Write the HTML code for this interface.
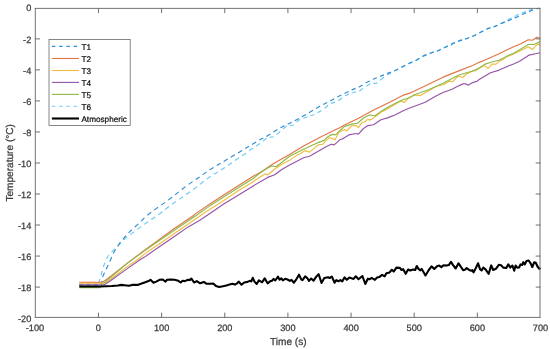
<!DOCTYPE html>
<html><head><meta charset="utf-8"><title>Temperature vs Time</title>
<style>
html,body{margin:0;padding:0;background:#fff;}
body{width:550px;height:349px;overflow:hidden;position:relative;font-family:"Liberation Sans",Arial,Helvetica,sans-serif;}
svg text{font-family:"Liberation Sans",Arial,Helvetica,sans-serif;stroke:#3a3a3a;stroke-width:0.25px;paint-order:stroke;text-rendering:geometricPrecision;}
</style></head><body>
<svg width="550" height="349" viewBox="0 0 550 349" style="position:absolute;left:0;top:0">
<rect width="550" height="349" fill="#fff"/>
<path d="M79.3,284.9 L82.1,284.9 M85.3,284.9 L89.3,284.9 M92.5,284.9 L96.5,284.9 M98.8,283.6 L99.3,280.8 L99.9,278.9 M100.9,275.4 L102.3,270.8 M103.4,267.1 L104.0,265.0 L105.0,262.6 M106.5,259.0 L107.4,257.0 L109.1,255.0 M111.5,252.2 L114.9,248.8 M117.6,246.1 L121.0,242.7 M123.7,240.0 L126.0,237.7 L127.3,236.7 M130.2,234.6 L133.0,232.5 L134.1,231.7 M137.3,229.4 L141.2,226.6 M144.2,224.4 L147.2,222.3 L148.2,221.6 M151.2,219.6 L153.7,217.9 L155.2,216.9 M158.3,214.7 L161.0,212.8 L162.3,211.8 M165.1,209.5 L168.3,207.0 L169.0,206.5 M172.1,204.3 L175.5,201.9 L176.0,201.6 M179.2,199.4 L183.0,196.7 M186.1,194.5 L190.1,191.7 M193.3,189.5 L197.1,186.8 M200.0,184.4 L203.6,181.2 M206.7,178.9 L210.6,176.3 M213.9,174.3 L217.7,172.0 M220.9,170.0 L224.9,167.5 M227.9,165.5 L231.9,162.7 M235.0,160.5 L239.0,157.8 M242.1,155.8 L246.1,153.2 M249.2,150.9 L252.8,148.0 M256.1,145.9 L260.1,143.5 M262.9,141.3 L266.6,138.1 M269.7,137.3 L273.7,136.7 M276.6,134.6 L280.2,131.4 M283.0,129.0 L286.0,126.4 L286.8,126.3 M289.8,125.7 L293.5,125.0 L293.8,124.7 M296.6,122.2 L299.0,120.0 L300.3,119.5 M303.3,118.3 L306.5,117.0 L307.5,116.7 M310.5,115.8 L314.0,114.7 L314.5,114.4 M317.5,112.7 L321.5,110.4 M324.6,108.5 L328.2,105.3 M331.2,103.4 L335.2,102.1 M338.3,100.8 L342.1,97.8 M345.1,95.8 L349.0,94.1 M352.2,92.8 L356.1,92.0 M359.3,91.3 L363.1,88.4 M366.3,86.2 L370.2,83.7 M373.3,83.3 L376.5,83.3 L377.3,82.7 M380.3,80.2 L380.9,79.7 L384.1,77.3 M387.2,75.1 L388.2,74.4 L391.0,72.9 M394.3,71.2 L395.5,70.5 L398.2,69.2 M401.4,67.6 L402.7,67.0 L405.2,65.7 M408.5,64.0 L412.4,62.2 M415.5,60.8 L416.6,60.3 L419.6,58.6 M422.7,56.7 L423.9,56.0 L426.6,55.2 M429.7,54.0 L431.2,53.0 L433.7,52.2 M436.8,51.3 L438.5,50.8 L440.8,49.6 M443.9,48.1 L445.7,47.2 L447.9,46.5 M451.0,45.5 L453.0,43.6 L454.7,42.9 M457.9,41.6 L460.3,40.6 L461.9,40.1 M465.0,39.2 L467.5,38.4 L469.0,37.8 M472.0,36.6 L474.8,35.5 L476.0,34.8 M479.2,33.1 L481.0,32.2 L483.1,31.1 M486.4,29.4 L487.6,28.8 L490.3,27.9 M493.4,26.9 L495.3,26.2 L497.3,25.2 M500.5,23.6 L502.9,22.5 L504.5,21.6 M507.6,20.0 L510.5,18.5 L511.6,17.9 M514.6,16.4 L518.2,14.5 L518.6,14.3 M521.8,13.1 L525.8,11.5 M529.0,10.2 L532.9,8.7 M535.9,8.5 L540.0,8.4" fill="none" stroke="#6BCAF3" stroke-width="1.15" stroke-linejoin="round"/>
<path d="M79.3,284.9 L83.5,284.9 M86.5,284.9 L90.7,284.9 M93.9,284.9 L97.9,284.9 M101.1,284.9 L101.5,284.9 L101.9,280.9 M102.6,277.1 L104.5,272.6 M106.1,269.3 L108.2,264.9 M109.8,261.4 L111.8,257.0 M113.4,253.6 L115.0,250.3 L115.6,249.5 M117.7,246.3 L120.3,242.4 L120.4,242.2 M122.9,239.3 L125.9,235.7 M128.6,232.9 L131.9,229.6 M134.7,227.0 L138.4,223.9 M141.2,221.2 L144.4,217.8 M147.4,215.3 L151.2,212.3 M154.1,210.1 L158.0,207.3 M161.2,205.1 L165.1,202.4 M168.2,200.1 L172.0,197.3 M175.0,194.9 L178.8,191.9 M181.8,189.5 L185.5,186.6 M188.6,184.4 L192.6,181.6 M195.7,179.5 L199.6,177.1 M202.6,174.9 L206.5,171.9 M209.5,169.9 L213.5,167.5 M216.8,165.5 L220.6,163.2 M223.7,161.4 L227.7,159.0 M230.8,157.2 L234.8,154.7 M238.0,152.9 L242.0,150.4 M245.2,148.6 L249.0,146.3 M252.1,144.4 L256.1,142.0 M259.3,140.1 L263.3,138.0 M266.3,136.4 L270.4,134.0 M273.5,132.1 L277.4,129.6 M280.5,127.8 L284.5,125.8 M287.7,124.2 L291.7,122.3 M294.7,120.7 L298.8,118.4 M301.8,116.8 L305.9,114.5 M309.0,112.7 L313.0,110.3 M316.1,108.5 L320.1,106.1 M323.2,104.4 L327.1,102.6 M330.3,101.0 L334.2,98.8 M337.3,97.0 L341.4,95.0 M344.5,93.5 L348.5,91.5 M351.6,90.0 L351.8,89.9 L355.5,88.4 M358.7,87.1 L359.1,87.0 L362.6,84.9 M365.7,83.0 L366.4,82.6 L369.8,80.9 M372.9,79.4 L373.6,79.0 L376.8,77.7 M380.0,76.5 L383.9,74.9 M387.1,73.6 L391.0,72.1 M394.2,70.8 L395.5,70.3 L398.2,68.9 M401.3,67.3 L402.7,66.6 L405.2,65.2 M408.3,63.6 L408.5,63.5 L412.4,61.8 M415.5,60.5 L416.6,60.0 L419.4,58.3 M422.5,56.4 L423.9,55.6 L426.5,54.6 M429.7,53.3 L431.2,52.7 L433.7,51.9 M436.8,51.0 L438.5,50.5 L440.8,49.3 M443.9,47.8 L445.7,46.9 L447.9,45.8 M451.0,44.3 L453.0,43.3 L454.9,42.6 M458.1,41.3 L460.3,40.4 L462.1,39.9 M465.2,38.9 L467.5,38.2 L469.2,37.5 M472.4,36.3 L474.8,35.3 L476.2,34.5 M479.4,32.8 L481.0,32.0 L483.3,30.8 M486.5,29.2 L487.6,28.6 L490.5,27.7 M493.6,26.7 L495.3,26.1 L497.5,25.2 M500.7,23.8 L504.8,22.1 M507.7,20.9 L510.5,19.7 L511.8,19.2 M514.8,17.9 L518.2,16.5 L518.9,16.1 M522.0,14.6 L524.5,13.4 L526.0,12.8 M529.0,11.6 L530.9,10.8 L533.0,9.9 M536.2,8.7 L539.8,8.4" fill="none" stroke="#2E8CD2" stroke-width="1.15" stroke-linejoin="round"/>
<path d="M79.3,282.4 L101.6,282.4 L104.0,281.1 L110.5,276.5 L125.1,264.9 L139.6,253.9 L144.5,250.1 L154.2,243.2 L159.0,239.6 L173.6,229.0 L192.5,216.2 L195.0,214.1 L209.5,204.2 L224.1,194.8 L238.6,185.5 L253.2,176.3 L262.6,170.9 L267.3,167.7 L274.5,162.9 L289.1,154.7 L303.6,146.1 L318.2,138.2 L332.7,131.0 L339.7,127.8 L344.5,125.1 L359.1,118.0 L373.6,110.1 L388.2,102.9 L402.7,95.4 L409.7,93.1 L414.5,91.0 L429.1,84.0 L443.6,76.9 L458.2,71.1 L472.7,65.5 L479.7,62.1 L484.5,60.2 L499.1,53.7 L513.6,46.7 L520.9,43.8 L528.2,39.7 L532.5,40.2 L536.9,37.3 L540.1,38.0" fill="none" stroke="#E37545" stroke-width="1.15" stroke-linejoin="round"/>
<path d="M79.3,283.1 L103.0,283.3 L106.2,282.2 L110.5,279.3 L125.1,268.1 L139.6,258.0 L144.5,254.1 L154.2,247.2 L159.0,244.2 L173.6,234.0 L188.2,224.0 L195.0,219.2 L209.5,209.5 L224.1,200.3 L238.6,190.6 L253.2,181.7 L264.8,173.9 L267.7,175.0 L272.0,171.3 L274.5,169.2 L281.8,164.2 L289.1,160.6 L296.4,155.6 L300.7,153.4 L305.1,150.6 L309.5,152.1 L318.2,144.9 L322.5,144.3 L326.9,139.9 L329.8,137.8 L332.7,138.6 L334.9,139.9 L338.7,132.5 L344.5,129.5 L346.7,131.0 L351.8,125.7 L356.2,125.6 L358.4,127.7 L362.0,122.5 L364.9,121.7 L367.8,119.4 L370.0,120.1 L373.6,117.9 L376.5,115.7 L382.4,111.4 L388.2,108.4 L395.5,104.0 L401.3,101.1 L404.2,102.5 L408.7,97.8 L414.5,94.9 L420.4,95.6 L429.1,90.5 L436.4,86.2 L443.6,84.7 L449.5,81.1 L452.4,81.8 L458.2,76.0 L462.5,77.5 L466.9,73.8 L472.7,70.9 L475.8,70.7 L478.7,68.5 L484.5,65.6 L488.2,68.5 L491.8,64.2 L496.2,64.2 L499.1,61.3 L503.5,59.1 L506.4,56.9 L513.6,54.0 L520.9,50.4 L528.2,46.7 L532.5,49.6 L535.5,46.0 L538.4,43.8 L540.1,45.3" fill="none" stroke="#F0BC40" stroke-width="1.15" stroke-linejoin="round"/>
<path d="M79.3,284.9 L104.0,284.9 L110.5,280.7 L125.1,270.1 L139.6,260.0 L144.5,257.1 L159.0,247.0 L173.6,237.1 L188.2,226.9 L199.4,220.4 L209.5,213.8 L224.1,203.8 L238.6,195.0 L253.2,185.9 L267.7,177.4 L274.7,174.8 L281.8,169.5 L289.1,165.2 L299.3,160.0 L303.6,157.7 L309.5,156.2 L318.2,151.3 L325.5,147.0 L331.3,144.2 L334.2,144.9 L339.7,139.8 L343.1,138.6 L348.9,134.9 L356.2,133.5 L358.4,134.2 L363.5,128.5 L367.8,125.6 L373.6,124.8 L380.9,119.7 L388.2,117.6 L395.5,114.7 L402.7,111.0 L409.7,108.0 L424.7,102.5 L436.4,95.7 L443.6,92.2 L451.5,89.5 L458.2,86.0 L461.9,84.4 L464.0,83.5 L468.4,85.1 L472.7,82.6 L477.1,81.2 L478.8,79.8 L490.5,72.8 L499.1,70.1 L507.8,66.2 L513.6,64.0 L519.6,61.2 L529.2,55.1 L535.5,53.7 L540.1,52.8" fill="none" stroke="#9654A8" stroke-width="1.15" stroke-linejoin="round"/>
<path d="M79.3,287.6 L99.9,287.6 L102.8,284.3 L106.0,281.0 L111.0,277.0 L125.1,265.1 L139.6,254.4 L154.2,244.0 L159.0,240.7 L173.6,230.8 L195.0,216.2 L209.5,206.1 L224.1,196.8 L238.6,187.4 L253.2,178.5 L260.0,173.0 L267.3,168.2 L271.6,166.0 L276.0,166.7 L281.8,162.3 L289.1,156.5 L303.6,149.2 L318.2,142.6 L324.0,140.4 L326.9,137.5 L330.0,135.4 L332.7,134.4 L335.6,134.8 L339.7,130.7 L344.5,126.4 L351.8,124.1 L357.6,123.2 L363.5,118.0 L369.3,115.0 L375.1,115.7 L380.9,111.4 L388.2,106.9 L395.5,103.3 L402.7,99.7 L409.7,97.8 L414.5,94.8 L429.1,89.5 L443.6,82.9 L458.2,75.3 L472.7,71.0 L479.7,67.7 L484.5,64.4 L491.8,62.0 L499.1,60.3 L506.4,56.4 L513.6,53.3 L520.9,48.9 L528.2,44.5 L534.0,44.5 L540.1,41.6" fill="none" stroke="#8DBB48" stroke-width="1.15" stroke-linejoin="round"/>
<path d="M79.3,286.5 L100.0,286.5 L112.0,286.0 L118.0,285.5 L121.3,284.9 L124.5,285.2 L128.9,285.7 L132.2,284.9 L137.6,284.9 L140.9,283.8 L145.3,282.2 L148.5,281.1 L150.5,279.8 L153.5,282.7 L156.2,281.6 L159.5,279.8 L162.7,279.5 L165.5,281.6 L167.1,279.8 L170.4,279.5 L174.7,279.8 L178.3,280.8 L180.7,282.5 L182.6,280.8 L184.8,281.1 L188.1,279.7 L189.7,280.1 L191.4,278.6 L194.1,282.5 L196.8,281.1 L200.1,283.3 L203.9,281.9 L206.6,283.8 L209.9,283.8 L213.2,283.5 L215.9,285.9 L219.2,287.0 L223.0,286.3 L226.3,285.5 L229.5,284.6 L232.5,283.8 L234.9,284.6 L237.1,283.3 L238.7,281.6 L241.5,284.7 L244.2,282.5 L247.5,281.9 L250.2,280.8 L251.3,281.4 L252.7,277.8 L254.5,281.6 L256.7,284.0 L258.9,280.3 L260.5,281.4 L262.2,282.2 L264.7,278.4 L267.6,283.3 L270.4,281.1 L272.0,280.8 L273.6,278.9 L275.3,280.5 L278.0,276.7 L279.6,279.7 L281.3,278.4 L282.9,280.3 L285.1,278.8 L287.5,279.5 L289.9,280.9 L291.5,279.9 L293.9,282.7 L296.5,279.1 L299.0,274.7 L301.4,279.6 L302.5,280.2 L305.2,276.4 L307.4,278.3 L309.0,280.9 L311.2,278.5 L313.6,280.7 L316.1,276.9 L318.6,274.2 L319.9,278.0 L321.5,282.9 L324.3,278.0 L328.1,277.2 L329.7,278.0 L331.9,276.6 L334.6,282.7 L336.3,280.2 L338.5,281.3 L340.3,280.0 L342.2,281.4 L344.6,277.4 L346.8,279.8 L349.3,277.6 L351.5,278.2 L353.6,278.9 L355.8,276.3 L358.5,279.3 L362.4,276.0 L365.3,284.0 L367.8,278.7 L369.5,279.3 L371.6,277.9 L374.9,279.8 L377.1,277.6 L379.3,277.1 L382.0,274.9 L384.7,276.3 L386.4,273.3 L389.6,272.4 L391.8,269.8 L393.7,271.6 L396.4,267.6 L399.9,267.9 L401.5,270.0 L403.2,269.2 L405.7,273.8 L408.1,269.5 L410.3,270.5 L413.0,269.5 L415.2,270.0 L416.8,266.0 L418.5,268.9 L420.3,270.3 L421.7,268.9 L425.5,275.5 L428.8,270.0 L431.5,266.4 L434.3,268.9 L437.0,266.2 L439.2,265.6 L441.4,267.1 L443.5,265.3 L446.3,265.6 L449.0,264.9 L451.0,261.8 L452.7,264.6 L455.7,268.5 L458.5,263.3 L460.9,266.9 L463.1,270.2 L465.3,269.6 L466.6,268.0 L469.1,269.9 L471.3,270.7 L472.4,270.2 L473.5,272.4 L475.6,268.5 L478.1,263.3 L480.0,269.1 L481.6,270.5 L483.3,267.5 L485.5,269.4 L488.7,273.8 L491.2,265.4 L493.2,270.0 L495.9,268.8 L498.8,264.8 L501.1,265.2 L503.3,267.6 L506.3,268.0 L508.3,264.3 L510.2,267.6 L512.4,265.5 L514.2,270.7 L515.6,265.5 L517.3,267.6 L519.2,267.4 L520.5,264.4 L522.2,264.9 L523.3,262.2 L524.7,264.4 L526.5,261.1 L528.7,260.5 L530.6,263.3 L532.3,267.1 L534.2,262.2 L535.8,262.7 L537.5,266.5 L539.3,268.9 L540.2,267.6" fill="none" stroke="#000" stroke-width="2.1" stroke-linejoin="round"/>
<path d="M35.3,8.0 V317.9 M540.0,8.0 V317.9 M34.8,8.38 H540.5 M34.8,317.4 H540.5" fill="none" stroke="#727272" stroke-width="1"/>
<path d="M98.45,317.4 V312.59999999999997 M98.45,8.35 V13.149999999999999 M161.60,317.4 V312.59999999999997 M161.60,8.35 V13.149999999999999 M224.75,317.4 V312.59999999999997 M224.75,8.35 V13.149999999999999 M287.90,317.4 V312.59999999999997 M287.90,8.35 V13.149999999999999 M351.05,317.4 V312.59999999999997 M351.05,8.35 V13.149999999999999 M414.20,317.4 V312.59999999999997 M414.20,8.35 V13.149999999999999 M477.35,317.4 V312.59999999999997 M477.35,8.35 V13.149999999999999 M35.3,287.10 H40.099999999999994 M540.5,287.10 H535.7 M35.3,256.07 H40.099999999999994 M540.5,256.07 H535.7 M35.3,225.04 H40.099999999999994 M540.5,225.04 H535.7 M35.3,194.01 H40.099999999999994 M540.5,194.01 H535.7 M35.3,162.98 H40.099999999999994 M540.5,162.98 H535.7 M35.3,131.95 H40.099999999999994 M540.5,131.95 H535.7 M35.3,100.92 H40.099999999999994 M540.5,100.92 H535.7 M35.3,69.89 H40.099999999999994 M540.5,69.89 H535.7 M35.3,38.86 H40.099999999999994 M540.5,38.86 H535.7" stroke="#606060" stroke-width="0.9" fill="none"/>
<text x="35.0" y="331.35" font-size="9.2" text-anchor="middle" fill="#3a3a3a">-100</text>
<text x="98.4" y="331.35" font-size="9.2" text-anchor="middle" fill="#3a3a3a">0</text>
<text x="161.6" y="331.35" font-size="9.2" text-anchor="middle" fill="#3a3a3a">100</text>
<text x="224.8" y="331.35" font-size="9.2" text-anchor="middle" fill="#3a3a3a">200</text>
<text x="287.9" y="331.35" font-size="9.2" text-anchor="middle" fill="#3a3a3a">300</text>
<text x="351.1" y="331.35" font-size="9.2" text-anchor="middle" fill="#3a3a3a">400</text>
<text x="414.2" y="331.35" font-size="9.2" text-anchor="middle" fill="#3a3a3a">500</text>
<text x="477.4" y="331.35" font-size="9.2" text-anchor="middle" fill="#3a3a3a">600</text>
<text x="540.5" y="331.35" font-size="9.2" text-anchor="middle" fill="#3a3a3a">700</text>
<text x="31.25" y="321.78" font-size="9.2" text-anchor="end" fill="#3a3a3a">-20</text>
<text x="31.25" y="290.75" font-size="9.2" text-anchor="end" fill="#3a3a3a">-18</text>
<text x="31.25" y="259.72" font-size="9.2" text-anchor="end" fill="#3a3a3a">-16</text>
<text x="31.25" y="228.69" font-size="9.2" text-anchor="end" fill="#3a3a3a">-14</text>
<text x="31.25" y="197.66" font-size="9.2" text-anchor="end" fill="#3a3a3a">-12</text>
<text x="31.25" y="166.63" font-size="9.2" text-anchor="end" fill="#3a3a3a">-10</text>
<text x="31.25" y="135.60" font-size="9.2" text-anchor="end" fill="#3a3a3a">-8</text>
<text x="31.25" y="104.57" font-size="9.2" text-anchor="end" fill="#3a3a3a">-6</text>
<text x="31.25" y="73.54" font-size="9.2" text-anchor="end" fill="#3a3a3a">-4</text>
<text x="31.25" y="42.51" font-size="9.2" text-anchor="end" fill="#3a3a3a">-2</text>
<text x="31.25" y="11.48" font-size="9.2" text-anchor="end" fill="#3a3a3a">0</text>
<text x="288.3" y="344.8" font-size="10.1" text-anchor="middle" fill="#3a3a3a">Time (s)</text>
<text transform="translate(13.3,162.8) rotate(-90)" font-size="10.1" text-anchor="middle" fill="#3a3a3a">Temperature (°C)</text>
<rect x="49.0" y="39.4" width="81.2" height="86.0" fill="#fff" stroke="#6a6a6a" stroke-width="0.8"/>
<path d="M51.9,46.40 H77.2" stroke="#2E8CD2" stroke-width="1.1" stroke-dasharray="3.4 3.85" fill="none"/>
<text x="81.4" y="49.8" font-size="8.2" fill="#0a0a0a" style="stroke:#0a0a0a;stroke-width:0.2px">T1</text>
<path d="M51.9,58.50 H79" stroke="#E37545" stroke-width="1.1" fill="none"/>
<text x="81.4" y="61.9" font-size="8.2" fill="#0a0a0a" style="stroke:#0a0a0a;stroke-width:0.2px">T2</text>
<path d="M51.9,70.50 H79" stroke="#F0BC40" stroke-width="1.1" fill="none"/>
<text x="81.4" y="73.9" font-size="8.2" fill="#0a0a0a" style="stroke:#0a0a0a;stroke-width:0.2px">T3</text>
<path d="M51.9,82.40 H79" stroke="#9654A8" stroke-width="1.1" fill="none"/>
<text x="81.4" y="85.8" font-size="8.2" fill="#0a0a0a" style="stroke:#0a0a0a;stroke-width:0.2px">T4</text>
<path d="M51.9,94.40 H79" stroke="#8DBB48" stroke-width="1.1" fill="none"/>
<text x="81.4" y="97.8" font-size="8.2" fill="#0a0a0a" style="stroke:#0a0a0a;stroke-width:0.2px">T5</text>
<path d="M51.9,106.30 H77.2" stroke="#6BCAF3" stroke-width="1.1" stroke-dasharray="3.4 3.85" fill="none"/>
<text x="81.4" y="109.7" font-size="8.2" fill="#0a0a0a" style="stroke:#0a0a0a;stroke-width:0.2px">T6</text>
<path d="M51.9,118.50 H79" stroke="#000" stroke-width="2.1" fill="none"/>
<text x="81.4" y="121.9" font-size="8.2" fill="#0a0a0a" style="stroke:#0a0a0a;stroke-width:0.2px">Atmospheric</text>
</svg>
</body></html>
